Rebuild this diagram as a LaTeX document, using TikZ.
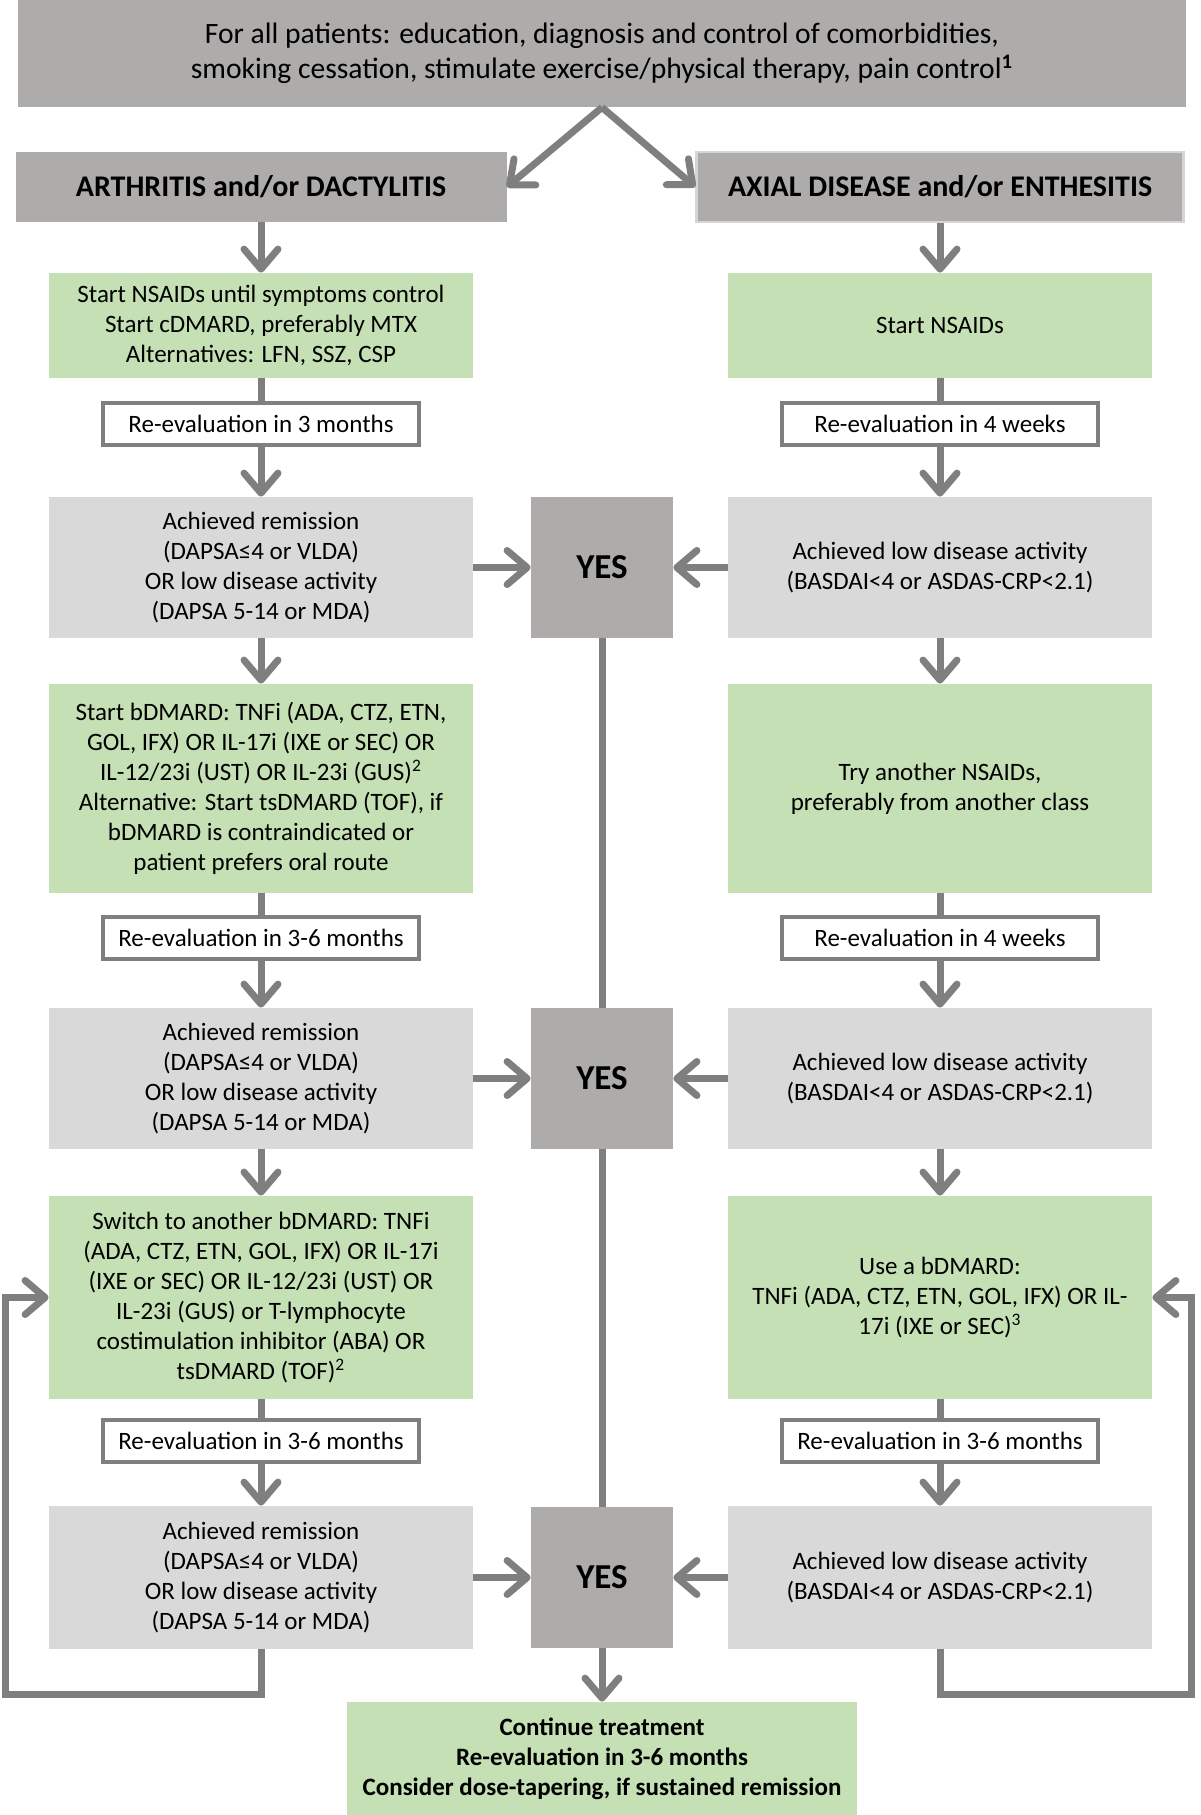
\documentclass[tikz,border=0pt]{standalone}
\usepackage{fontspec}
\setmainfont{Carlito}
\usetikzlibrary{arrows.meta}

\definecolor{boxgray}{HTML}{AEABAB}
\definecolor{lightbox}{HTML}{D9D9D9}
\definecolor{boxgreen}{HTML}{C5E0B4}
\definecolor{linegray}{HTML}{7F7F7F}
\definecolor{rimgray}{HTML}{D6D4D4}

\tikzset{
  box/.style={inner sep=0pt, align=center, font=\fontsize{12.5}{15}\selectfont, minimum width=212pt},
  greybox/.style={box, fill=lightbox, minimum height=70.5pt},
  greenbox/.style={box, fill=boxgreen},
  evalbox/.style={box, draw=linegray, line width=2pt, fill=white, minimum width=158pt, minimum height=21pt},
  yesbox/.style={box, fill=boxgray, minimum width=71pt, minimum height=70.5pt, font=\fontsize{17.5}{20}\selectfont\bfseries},
  headbox/.style={box, fill=boxgray, minimum height=35pt, font=\fontsize{15}{18}\selectfont\bfseries},
  conn/.style={draw=linegray, line width=3.5pt, -{Straight Barb[round, length=10pt, width=17pt]}},
  link/.style={draw=linegray, line width=3.5pt},
}

\begin{document}
\begin{tikzpicture}[x=0.5pt, y=-0.5pt]
  % Column positions (pixels of the chart)
  \def\lx{261}
  \def\rx{940}
  \def\mx{602}
  \useasboundingbox (0,0) rectangle (1200,1815);

  % Headers
  \node[headbox, minimum width=584pt, minimum height=53.5pt, font=\fontsize{14.8}{17.5}\selectfont] (top) at (\mx,53.5)
    {For all patients: education, diagnosis and control of comorbidities,\\
     smoking cessation, stimulate exercise/physical therapy, pain control\textsuperscript{\textbf{1}}};
  \node[headbox, minimum width=245.5pt] (lhead) at (\lx,187) {ARTHRITIS and/or DACTYLITIS};
  \node[headbox, minimum width=243.5pt, draw=rimgray, line width=1.2pt] (rhead) at (\rx,187) {AXIAL DISEASE and/or ENTHESITIS};

  % Left column: arthritis
  \node[greenbox, minimum height=52.5pt] (lg1) at (\lx,325.5)
    {Start NSAIDs until symptoms control\\Start cDMARD, preferably MTX\\Alternatives: LFN, SSZ, CSP};
  \node[evalbox] (le1) at (\lx,424) {Re-evaluation in 3 months};
  \node[greybox] (lgray1) at (\lx,567.5)
    {Achieved remission\\(DAPSA≤4 or VLDA)\\OR low disease activity\\(DAPSA 5-14 or MDA)};
  \node[greenbox, minimum height=104.5pt] (lg2) at (\lx,788.5)
    {Start bDMARD: TNFi (ADA, CTZ, ETN,\\GOL, IFX) OR IL-17i (IXE or SEC) OR\\IL-12/23i (UST) OR IL-23i (GUS)\textsuperscript{2}\\
     Alternative: Start tsDMARD (TOF), if\\bDMARD is contraindicated or\\patient prefers oral route};
  \node[evalbox] (le2) at (\lx,937.5) {Re-evaluation in 3-6 months};
  \node[greybox] (lgray2) at (\lx,1078.5)
    {Achieved remission\\(DAPSA≤4 or VLDA)\\OR low disease activity\\(DAPSA 5-14 or MDA)};
  \node[greenbox, minimum height=101.5pt] (lg3) at (\lx,1297.5)
    {Switch to another bDMARD: TNFi\\(ADA, CTZ, ETN, GOL, IFX) OR IL-17i\\(IXE or SEC) OR IL-12/23i (UST) OR\\
     IL-23i (GUS) or T-lymphocyte\\costimulation inhibitor (ABA) OR\\tsDMARD (TOF)\textsuperscript{2}};
  \node[evalbox] (le3) at (\lx,1441) {Re-evaluation in 3-6 months};
  \node[greybox, minimum height=71.5pt] (lgray3) at (\lx,1577.5)
    {Achieved remission\\(DAPSA≤4 or VLDA)\\OR low disease activity\\(DAPSA 5-14 or MDA)};

  % Right column: axial disease
  \node[greenbox, minimum height=52.5pt] (rg1) at (\rx,325.5) {Start NSAIDs};
  \node[evalbox] (re1) at (\rx,424) {Re-evaluation in 4 weeks};
  \node[greybox] (rgray1) at (\rx,567.5) {Achieved low disease activity\\(BASDAI<4 or ASDAS-CRP<2.1)};
  \node[greenbox, minimum height=104.5pt] (rg2) at (\rx,788.5) {Try another NSAIDs,\\preferably from another class};
  \node[evalbox] (re2) at (\rx,937.5) {Re-evaluation in 4 weeks};
  \node[greybox] (rgray2) at (\rx,1078.5) {Achieved low disease activity\\(BASDAI<4 or ASDAS-CRP<2.1)};
  \node[greenbox, minimum height=101.5pt] (rg3) at (\rx,1297.5)
    {Use a bDMARD:\\TNFi (ADA, CTZ, ETN, GOL, IFX) OR IL-\\17i (IXE or SEC)\textsuperscript{3}};
  \node[evalbox] (re3) at (\rx,1441) {Re-evaluation in 3-6 months};
  \node[greybox, minimum height=71.5pt] (rgray3) at (\rx,1577.5) {Achieved low disease activity\\(BASDAI<4 or ASDAS-CRP<2.1)};

  % Middle: YES boxes and outcome
  \foreach \i/\y in {1/567.5, 2/1078.5, 3/1577.5}
    \node[yesbox] (yes\i) at (\mx,\y) {YES};
  \node[greenbox, minimum width=255pt, minimum height=56.5pt, font=\fontsize{12.5}{15}\selectfont\bfseries] (final) at (\mx,1758.5)
    {Continue treatment\\Re-evaluation in 3-6 months\\Consider dose-tapering, if sustained remission};

  % Connectors
  \draw[conn] (top.south) -- (lhead.east);
  \draw[conn] (top.south) -- (rhead.west);
  \draw[conn] (lhead) -- (lg1);
  \draw[conn] (rhead) -- (rg1);
  \foreach \side in {l,r} {
    \foreach \i in {1,2,3} {
      \draw[link] (\side g\i) -- (\side e\i);
      \draw[conn] (\side e\i) -- (\side gray\i);
      \draw[conn] (\side gray\i) -- (yes\i);
    }
    \draw[conn] (\side gray1) -- (\side g2);
    \draw[conn] (\side gray2) -- (\side g3);
  }
  \draw[link] (yes1) -- (yes2);
  \draw[link] (yes2) -- (yes3);
  \draw[conn] (yes3) -- (final);

  % Loops back when no response
  \coordinate (lloop) at (5,1694);
  \coordinate (rloop) at (1191,1694);
  \draw[conn] (lgray3.south) |- (lloop) |- (lg3.west);
  \draw[conn] (rgray3.south) |- (rloop) |- (rg3.east);
\end{tikzpicture}
\end{document}
